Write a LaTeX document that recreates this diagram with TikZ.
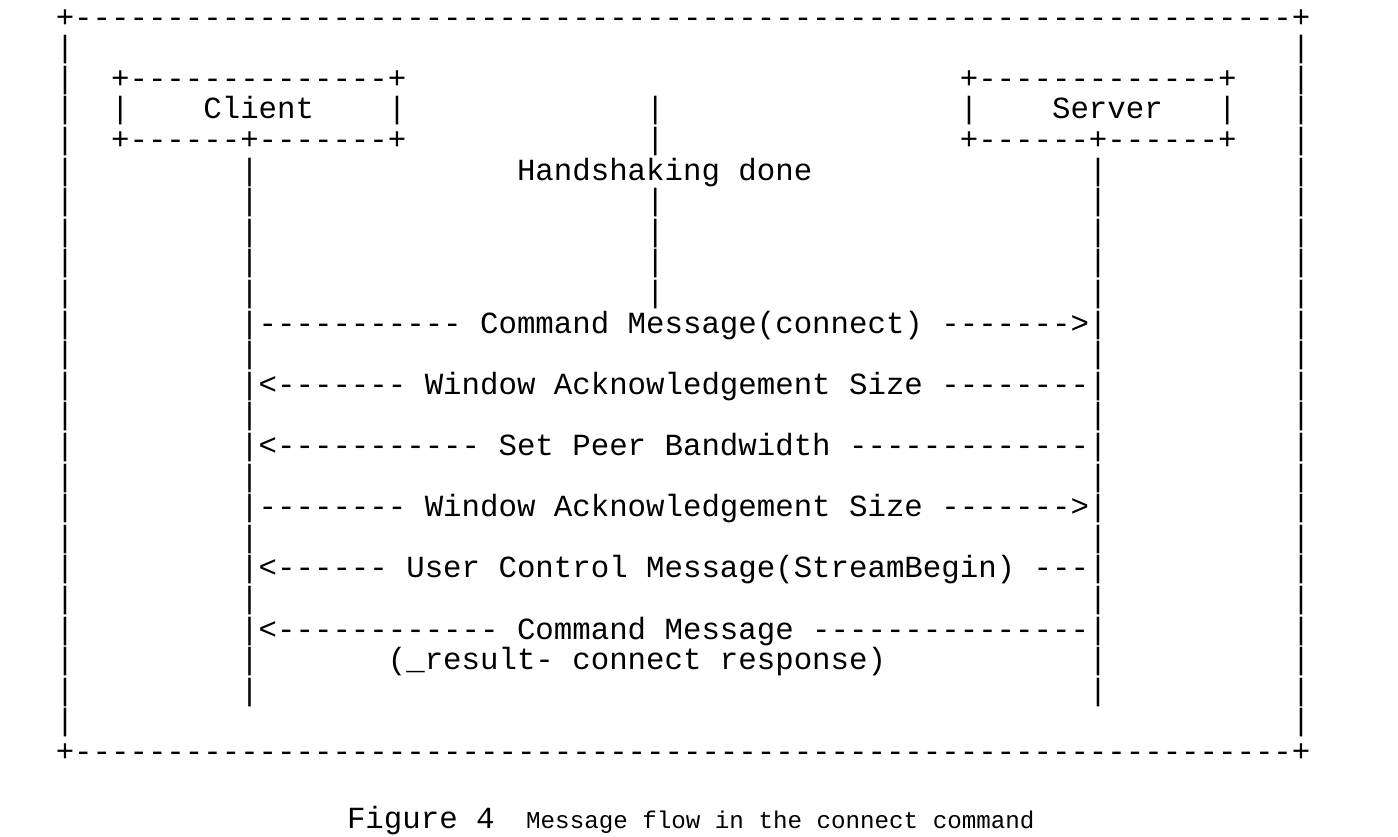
\documentclass[tikz,border=0pt]{standalone}
\usepackage{fontspec}
\setmonofont{Liberation Mono}
\begin{document}
\begin{tikzpicture}[x=1pt,y=1pt,
  txt/.style={anchor=base west,inner sep=0pt,outer sep=0pt,font=\fontsize{30.75}{31}\selectfont\ttfamily},
  captxt/.style={anchor=base west,inner sep=0pt,font=\fontsize{24.2}{25}\selectfont\ttfamily}]
\useasboundingbox (0,0) rectangle (1398,-836);
\def\W{18.45}
\newcommand\ch[4]{\node[txt] (#1) at ({65+(#2-0.5)*\W},{-(17+#3*30.6)-10}) {#4};}
% outer border
\ch{tl}{0}{0}{+}\ch{tr}{67}{0}{+}\ch{bl}{0}{24}{+}\ch{br}{67}{24}{+}
\foreach \c in {1,...,66}{\ch{t\c}{\c}{0}{-}\ch{b\c}{\c}{24}{-}}
\foreach \r in {1,...,23}{\ch{l\r}{0}{\r}{|}\ch{r\r}{67}{\r}{|}}
% client box
\ch{c1}{3}{2}{+}\ch{c2}{18}{2}{+}\foreach \c in {4,...,17}{\ch{ct\c}{\c}{2}{-}}
\ch{c3}{3}{3}{|}\ch{client}{8}{3}{Client}\ch{c4}{18}{3}{|}
\ch{c5}{3}{4}{+}\ch{c6}{10}{4}{+}\ch{c7}{18}{4}{+}
\foreach \c in {4,...,9,11,12,...,17}{\ch{cb\c}{\c}{4}{-}}
% server box
\ch{s1}{49}{2}{+}\ch{s2}{63}{2}{+}\foreach \c in {50,...,62}{\ch{st\c}{\c}{2}{-}}
\ch{s3}{49}{3}{|}\ch{server}{54}{3}{Server}\ch{s4}{63}{3}{|}
\ch{s5}{49}{4}{+}\ch{s6}{56}{4}{+}\ch{s7}{63}{4}{+}
\foreach \c in {50,...,55,57,58,...,62}{\ch{sb\c}{\c}{4}{-}}
% middle line
\foreach \r in {3,4,6,7,8,9}{\ch{m\r}{32}{\r}{|}}
\ch{hs}{25}{5}{Handshaking done}
% lifelines
\foreach \r in {5,6,7,8,9,11,13,15,17,19,21,22}{\ch{lc\r}{10}{\r}{|}\ch{ls\r}{56}{\r}{|}}
% messages
\ch{a1}{10}{10}{|----------- Command Message(connect) ------->|}
\ch{a2}{10}{12}{|<------- Window Acknowledgement Size --------|}
\ch{a3}{10}{14}{|<----------- Set Peer Bandwidth -------------|}
\ch{a4}{10}{16}{|-------- Window Acknowledgement Size ------->|}
\ch{a5}{10}{18}{|<------ User Control Message(StreamBegin) ---|}
\ch{a6}{10}{20}{|<------------ Command Message ---------------|}
\ch{a7}{18}{21}{(\_result- connect response)}
% caption
\node[txt] (fig) at (347,-828) {Figure 4};
\node[captxt] (capt) at (526,-828) {Message flow in the connect command};
\end{tikzpicture}
\end{document}
